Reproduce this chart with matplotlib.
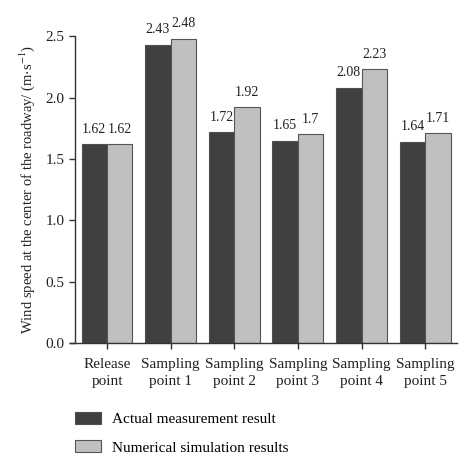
import numpy as np
import matplotlib.pyplot as plt

categories = ["Release\npoint", "Sampling\npoint 1", "Sampling\npoint 2",
              "Sampling\npoint 3", "Sampling\npoint 4", "Sampling\npoint 5"]
measured = [1.62, 2.43, 1.72, 1.65, 2.08, 1.64]
simulated = [1.62, 2.48, 1.92, 1.70, 2.23, 1.71]
measured_labels = ["1.62", "2.43", "1.72", "1.65", "2.08", "1.64"]
simulated_labels = ["1.62", "2.48", "1.92", "1.7", "2.23", "1.71"]
yticks = [0.0, 0.5, 1.0, 1.5, 2.0, 2.5]

plt.rcParams['font.family'] = ['Liberation Serif', 'DejaVu Serif']
plt.rcParams['mathtext.fontset'] = 'stix'

fig = plt.figure(figsize=(4.74, 4.70), dpi=100)
ax = fig.add_axes([0.148, 0.270, 0.816, 0.653])

x = np.arange(len(categories))
w = 0.4
b1 = ax.bar(x - w / 2, measured, w, color='#404040', edgecolor='#505050',
            linewidth=0.8, label='Actual measurement result')
b2 = ax.bar(x + w / 2, simulated, w, color='#c0c0c0', edgecolor='#555555',
            linewidth=0.8, label='Numerical simulation results')

# value labels above each bar
for bars, labels in [(b1, measured_labels), (b2, simulated_labels)]:
    for rect, lab in zip(bars, labels):
        ax.annotate(lab, (rect.get_x() + rect.get_width() / 2, rect.get_height()),
                    xytext=(0, 6), textcoords='offset points', ha='center', va='bottom',
                    fontsize=10, color='#222222', annotation_clip=False)

ax.set_xlim(-0.58, 5.5)
ax.set_ylim(0, 2.5)
ax.spines['top'].set_visible(False)
ax.spines['right'].set_visible(False)
ax.spines['left'].set_position(('data', -0.5))
ax.spines['left'].set_bounds(0, 2.5)
for s in ['left', 'bottom']:
    ax.spines[s].set_color('#333333')
    ax.spines[s].set_linewidth(1.0)

ax.set_xticks(x)
ax.set_xticklabels(categories, fontsize=11, color='#222222', linespacing=1.35)
ax.set_yticks(yticks)
ax.set_yticklabels([f"{v:.1f}" for v in yticks], fontsize=11, color='#222222')
ax.tick_params(axis='both', direction='out', length=4, color='#333333', width=1.0)
ax.tick_params(axis='x', pad=7)

ax.set_ylabel("Wind speed at the center of the roadway/ (m$\\cdot$s$^{-1}$)",
              fontsize=10.5, color='#222222', labelpad=6)

fig.legend(handles=[b1, b2], loc='upper left', bbox_to_anchor=(75 / 474, 1 - 412 / 470),
           frameon=False, fontsize=11, handlelength=1.7, handleheight=0.85,
           handletextpad=0.7, labelspacing=0.9, borderpad=0, borderaxespad=0)

fig.savefig('out.png', dpi=100)
